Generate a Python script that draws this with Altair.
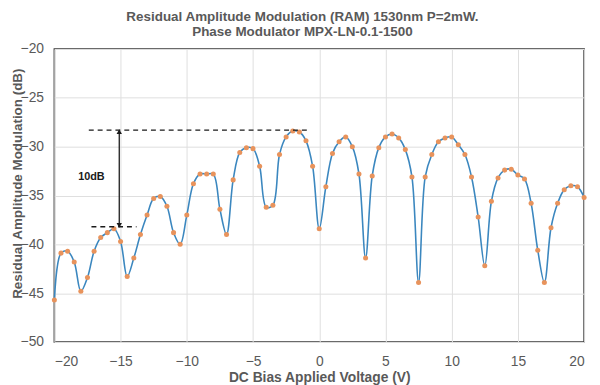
import altair as alt
import pandas as pd

# ---- data ----
voltage = [-20.0, -19.5, -19.0, -18.5, -18.0, -17.5, -17.0, -16.5, -16.0, -15.5,
           -15.0, -14.5, -14.0, -13.5, -13.0, -12.5, -12.0, -11.5, -11.0, -10.5,
           -10.0, -9.5, -9.0, -8.5, -8.0, -7.5, -7.0, -6.5, -6.0, -5.5,
           -5.0, -4.5, -4.0, -3.5, -3.0, -2.5, -2.0, -1.5, -1.0, -0.5,
           0.0, 0.5, 1.0, 1.5, 2.0, 2.5, 3.0, 3.5, 4.0, 4.5,
           5.0, 5.5, 6.0, 6.5, 7.0, 7.5, 8.0, 8.5, 9.0, 9.5,
           10.0, 10.5, 11.0, 11.5, 12.0, 12.5, 13.0, 13.5, 14.0, 14.5,
           15.0, 15.5, 16.0, 16.5, 17.0, 17.5, 18.0, 18.5, 19.0, 19.5, 20.0]

ram_db = [-45.7, -40.9, -40.7, -41.8, -44.8, -43.4, -40.7, -39.3, -38.8, -38.4,
          -39.7, -43.3, -41.4, -39.0, -37.0, -35.3, -35.1, -36.1, -38.8, -40.0,
          -37.0, -33.8, -32.8, -32.8, -32.8, -36.4, -39.0, -33.4, -30.6, -30.1,
          -30.2, -32.0, -36.2, -36.0, -30.8, -29.0, -28.4, -28.5, -29.4, -32.0,
          -38.4, -34.1, -30.7, -29.5, -29.0, -30.0, -32.8, -41.4, -33.0, -30.1,
          -29.0, -28.7, -29.1, -30.3, -33.1, -43.9, -33.1, -30.8, -29.5, -29.1,
          -29.0, -29.8, -30.8, -33.1, -37.2, -42.2, -35.6, -33.2, -32.4, -32.3,
          -32.9, -33.3, -35.8, -40.6, -43.9, -38.3, -35.8, -34.4, -34.0, -34.1, -35.2]

x_ticks = [-20, -15, -10, -5, 0, 5, 10, 15, 20]
y_ticks = [-50, -45, -40, -35, -30, -25, -20]

# annotation: dashed reference levels and the 10 dB span
dash_x_start = [-17.4, -17.2]
dash_x_end = [-0.7, -13.8]
dash_level = [-28.3, -38.2]
arrow_x = [-15.1, -15.1]
arrow_top = [-28.45]
arrow_bottom = [-38.05]
label_text = ["10dB"]
label_x = [-17.2]
label_y = [-33.1]

df = pd.DataFrame({"V": voltage, "RAM": ram_db})
dash_df = pd.DataFrame({"V": dash_x_start, "V2": dash_x_end, "RAM": dash_level})
shaft_df = pd.DataFrame({"V": arrow_x[:1], "RAM": arrow_top, "RAM2": arrow_bottom})
head_up_df = pd.DataFrame({"V": arrow_x[:1], "RAM": arrow_top})
head_dn_df = pd.DataFrame({"V": arrow_x[1:], "RAM": arrow_bottom})
text_df = pd.DataFrame({"V": label_x, "RAM": label_y, "t": label_text})

xscale = alt.Scale(domain=[-20, 20], nice=False, zero=False)
yscale = alt.Scale(domain=[-50, -20], nice=False, zero=False)

xenc = alt.X("V:Q", scale=xscale,
             axis=alt.Axis(values=x_ticks, title="DC Bias Applied Voltage (V)",
                           labelPadding=13, titlePadding=2, format="d"))
yenc = alt.Y("RAM:Q", scale=yscale,
             axis=alt.Axis(values=y_ticks, title="Residual Amplitude Modulation (dB)",
                           labelPadding=11, titleX=-37, titleY=136,
                           titleFontSize=13.6,
                           titleBaseline="middle", titleAngle=270, format="d"))

line = alt.Chart(df).mark_line(interpolate="catmull-rom", color="#3b87bf",
                               strokeWidth=1.6).encode(x=xenc, y=yenc)
pts = alt.Chart(df).mark_point(filled=True, color="#e8935c", size=26,
                               opacity=1).encode(x="V:Q", y="RAM:Q")

dashes = alt.Chart(dash_df).mark_rule(color="#1a1a1a", strokeWidth=1.4,
                                      strokeDash=[5, 4]).encode(
    x="V:Q", x2="V2:Q", y="RAM:Q")
shaft = alt.Chart(shaft_df).mark_rule(color="#1a1a1a", strokeWidth=1.3).encode(
    x="V:Q", y="RAM:Q", y2="RAM2:Q")
head_up = alt.Chart(head_up_df).mark_point(shape="triangle-up", filled=True,
                                           color="#1a1a1a", size=30, opacity=1).encode(
    x="V:Q", y="RAM:Q")
head_dn = alt.Chart(head_dn_df).mark_point(shape="triangle-down", filled=True,
                                           color="#1a1a1a", size=30, opacity=1).encode(
    x="V:Q", y="RAM:Q")
txt = alt.Chart(text_df).mark_text(font="Liberation Sans", fontSize=11,
                                   fontWeight="bold", color="#1a1a1a").encode(
    x="V:Q", y="RAM:Q", text="t:N")

chart = alt.layer(line, pts, dashes, shaft, head_up, head_dn, txt).properties(
    width=537,
    height=297,
    autosize=alt.AutoSizeParams(type="none"),
    padding={"left": 47, "top": 39, "right": 8, "bottom": 41},
    title=alt.Title(
        ["Residual Amplitude Modulation (RAM) 1530nm P=2mW.",
         "Phase Modulator MPX-LN-0.1-1500"],
        font="Liberation Sans", fontSize=13.6, fontWeight="bold",
        color="#595959", anchor="middle", dx=-17, offset=4, lineHeight=14.5),
).configure_view(
    stroke="#3a3a3a", strokeWidth=1.6
).configure_axis(
    grid=True, gridColor="#dedede", gridWidth=1, domain=False, ticks=False,
    labelFont="Liberation Sans", labelFontSize=14, labelColor="#595959",
    titleFont="Liberation Sans", titleFontSize=14, titleFontWeight="bold",
    titleColor="#595959"
)

chart.save("out.html", embed_options={"renderer": "svg", "actions": False})
